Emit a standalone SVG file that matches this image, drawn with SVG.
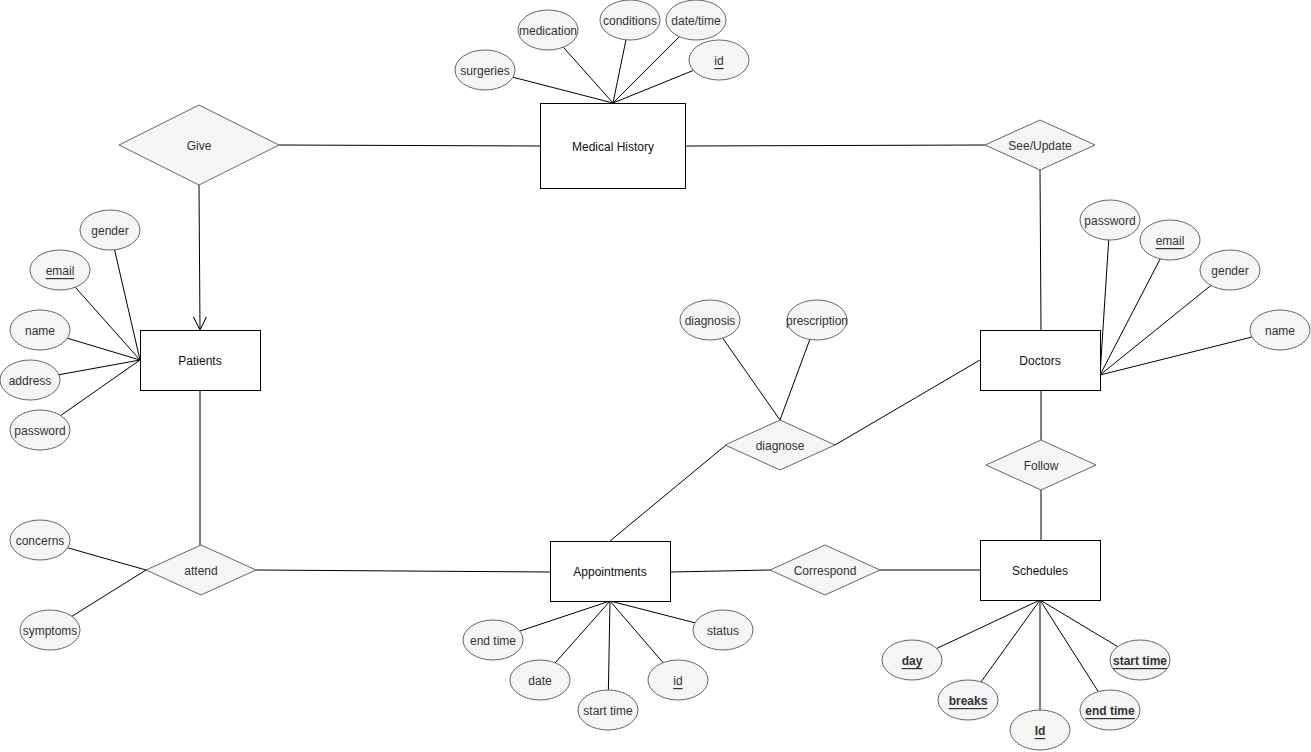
<svg xmlns="http://www.w3.org/2000/svg" width="1311" height="752" viewBox="0 0 1311 752">
<style>
.ent{fill:#ffffff;stroke:#000000;stroke-width:1}
.rel{fill:#f5f5f5;stroke:#666666;stroke-width:1}
.att{fill:#f5f5f5;stroke:#666666;stroke-width:1}
.c{stroke:#000000;stroke-width:1;fill:none}
text{font-family:"Liberation Sans",Arial,sans-serif;font-size:12px;text-anchor:middle;dominant-baseline:central;transform:translate(0px,1px)}
.te{fill:#111111}
.ta{fill:#333333}
.key{text-decoration:underline}
.bk{text-decoration:underline;font-weight:bold}
</style>
<defs>
<marker id="open" markerUnits="userSpaceOnUse" markerWidth="20" markerHeight="20" refX="0" refY="0" orient="auto" overflow="visible">
<path d="M-13,-6.5 L0,0 L-13,6.5" fill="none" stroke="#000000" stroke-width="1"/>
</marker>
</defs>
<rect width="1311" height="752" fill="#ffffff"/>
<g id="connectors">
<line class="c" x1="199" y1="185" x2="200" y2="330" marker-end="url(#open)"/>
<line class="c" x1="279" y1="145" x2="540" y2="146"/>
<line class="c" x1="685" y1="146" x2="985" y2="145"/>
<line class="c" x1="1040" y1="170" x2="1041" y2="330"/>
<line class="c" x1="1041" y1="390" x2="1041" y2="440"/>
<line class="c" x1="1041" y1="490" x2="1041" y2="540"/>
<line class="c" x1="880" y1="570" x2="980" y2="570"/>
<line class="c" x1="670" y1="572" x2="771" y2="570"/>
<line class="c" x1="256" y1="570" x2="550" y2="572"/>
<line class="c" x1="200" y1="390" x2="200" y2="545"/>
<line class="c" x1="835" y1="445" x2="980" y2="360"/>
<line class="c" x1="726" y1="445" x2="610" y2="541"/>
<!-- medical history attributes -->
<line class="c" x1="613" y1="103" x2="485" y2="70"/>
<line class="c" x1="613" y1="103" x2="548" y2="30"/>
<line class="c" x1="613" y1="103" x2="630" y2="20"/>
<line class="c" x1="613" y1="103" x2="696" y2="20"/>
<line class="c" x1="613" y1="103" x2="719" y2="60"/>
<!-- patients attributes -->
<line class="c" x1="140" y1="360" x2="110" y2="230"/>
<line class="c" x1="140" y1="360" x2="60" y2="270"/>
<line class="c" x1="140" y1="360" x2="40" y2="330"/>
<line class="c" x1="140" y1="360" x2="30" y2="380"/>
<line class="c" x1="140" y1="360" x2="40" y2="430"/>
<!-- doctors attributes -->
<line class="c" x1="1100" y1="375" x2="1110" y2="220"/>
<line class="c" x1="1100" y1="375" x2="1170" y2="240"/>
<line class="c" x1="1100" y1="375" x2="1230" y2="270"/>
<line class="c" x1="1100" y1="375" x2="1280" y2="330"/>
<!-- diagnose attributes -->
<line class="c" x1="780" y1="420" x2="710" y2="320"/>
<line class="c" x1="780" y1="420" x2="817" y2="320"/>
<!-- attend attributes -->
<line class="c" x1="146" y1="570" x2="40" y2="540"/>
<line class="c" x1="146" y1="570" x2="50" y2="630"/>
<!-- appointments attributes -->
<line class="c" x1="610" y1="601" x2="493" y2="640"/>
<line class="c" x1="610" y1="601" x2="540" y2="680"/>
<line class="c" x1="610" y1="601" x2="608" y2="710"/>
<line class="c" x1="610" y1="601" x2="678" y2="680"/>
<line class="c" x1="610" y1="601" x2="723" y2="630"/>
<!-- schedules attributes -->
<line class="c" x1="1040" y1="600" x2="912" y2="660"/>
<line class="c" x1="1040" y1="600" x2="968" y2="700"/>
<line class="c" x1="1040" y1="600" x2="1040" y2="730"/>
<line class="c" x1="1040" y1="600" x2="1110" y2="710"/>
<line class="c" x1="1040" y1="600" x2="1140" y2="660"/>
</g>
<g id="medical-history"><rect class="ent" x="540.5" y="103.5" width="145" height="85"/><text class="te" x="613" y="146">Medical History</text></g>
<g id="patients"><rect class="ent" x="140.5" y="330.5" width="120" height="60"/><text class="te" x="200" y="360">Patients</text></g>
<g id="doctors"><rect class="ent" x="980.5" y="330.5" width="120" height="60"/><text class="te" x="1040" y="360">Doctors</text></g>
<g id="appointments"><rect class="ent" x="550.5" y="541.5" width="120" height="60"/><text class="te" x="610" y="571">Appointments</text></g>
<g id="schedules"><rect class="ent" x="980.5" y="540.5" width="120" height="60"/><text class="te" x="1040" y="570">Schedules</text></g>

<g id="give"><polygon class="rel" points="199,105 279,145 199,185 119,145"/><text class="ta" x="199" y="145">Give</text></g>
<g id="see-update"><polygon class="rel" points="1040,120 1095,145 1040,170 985,145"/><text class="ta" x="1040" y="145">See/Update</text></g>
<g id="follow"><polygon class="rel" points="1041,440 1096,465 1041,490 986,465"/><text class="ta" x="1041" y="465">Follow</text></g>
<g id="correspond"><polygon class="rel" points="825,545 880,570 825,595 770,570"/><text class="ta" x="825" y="570">Correspond</text></g>
<g id="attend"><polygon class="rel" points="201,545 256,570 201,595 146,570"/><text class="ta" x="201" y="570">attend</text></g>
<g id="diagnose"><polygon class="rel" points="780,420 835,445 780,470 725,445"/><text class="ta" x="780" y="445">diagnose</text></g>

<g id="attr-surgeries"><ellipse class="att" cx="485" cy="70" rx="30" ry="20"/><text class="ta" x="485" y="70">surgeries</text></g>
<g id="attr-medication"><ellipse class="att" cx="548" cy="30" rx="30" ry="20"/><text class="ta" x="548" y="30">medication</text></g>
<g id="attr-conditions"><ellipse class="att" cx="630" cy="20" rx="30" ry="20"/><text class="ta" x="630" y="20">conditions</text></g>
<g id="attr-datetime"><ellipse class="att" cx="696" cy="20" rx="30" ry="20"/><text class="ta" x="696" y="20">date/time</text></g>
<g id="attr-mh-id"><ellipse class="att" cx="719" cy="60" rx="30" ry="20"/><text class="ta key" x="719" y="60">id</text></g>

<g id="attr-p-gender"><ellipse class="att" cx="110" cy="230" rx="30" ry="20"/><text class="ta" x="110" y="230">gender</text></g>
<g id="attr-p-email"><ellipse class="att" cx="60" cy="270" rx="30" ry="20"/><text class="ta key" x="60" y="270">email</text></g>
<g id="attr-p-name"><ellipse class="att" cx="40" cy="330" rx="30" ry="20"/><text class="ta" x="40" y="330">name</text></g>
<g id="attr-p-address"><ellipse class="att" cx="30" cy="380" rx="30" ry="20"/><text class="ta" x="30" y="380">address</text></g>
<g id="attr-p-password"><ellipse class="att" cx="40" cy="430" rx="30" ry="20"/><text class="ta" x="40" y="430">password</text></g>

<g id="attr-d-password"><ellipse class="att" cx="1110" cy="220" rx="30" ry="20"/><text class="ta" x="1110" y="220">password</text></g>
<g id="attr-d-email"><ellipse class="att" cx="1170" cy="240" rx="30" ry="20"/><text class="ta key" x="1170" y="240">email</text></g>
<g id="attr-d-gender"><ellipse class="att" cx="1230" cy="270" rx="30" ry="20"/><text class="ta" x="1230" y="270">gender</text></g>
<g id="attr-d-name"><ellipse class="att" cx="1280" cy="330" rx="30" ry="20"/><text class="ta" x="1280" y="330">name</text></g>

<g id="attr-diagnosis"><ellipse class="att" cx="710" cy="320" rx="30" ry="20"/><text class="ta" x="710" y="320">diagnosis</text></g>
<g id="attr-prescription"><ellipse class="att" cx="817" cy="320" rx="30" ry="20"/><text class="ta" x="817" y="320">prescription</text></g>

<g id="attr-concerns"><ellipse class="att" cx="40" cy="540" rx="30" ry="20"/><text class="ta" x="40" y="540">concerns</text></g>
<g id="attr-symptoms"><ellipse class="att" cx="50" cy="630" rx="30" ry="20"/><text class="ta" x="50" y="630">symptoms</text></g>

<g id="attr-a-endtime"><ellipse class="att" cx="493" cy="640" rx="30" ry="20"/><text class="ta" x="493" y="640">end time</text></g>
<g id="attr-a-date"><ellipse class="att" cx="540" cy="680" rx="30" ry="20"/><text class="ta" x="540" y="680">date</text></g>
<g id="attr-a-starttime"><ellipse class="att" cx="608" cy="710" rx="30" ry="20"/><text class="ta" x="608" y="710">start time</text></g>
<g id="attr-a-id"><ellipse class="att" cx="678" cy="680" rx="30" ry="20"/><text class="ta key" x="678" y="680">id</text></g>
<g id="attr-a-status"><ellipse class="att" cx="723" cy="630" rx="30" ry="20"/><text class="ta" x="723" y="630">status</text></g>

<g id="attr-s-day"><ellipse class="att" cx="912" cy="660" rx="30" ry="20"/><text class="ta bk" x="912" y="660">day</text></g>
<g id="attr-s-breaks"><ellipse class="att" cx="968" cy="700" rx="30" ry="20"/><text class="ta bk" x="968" y="700">breaks</text></g>
<g id="attr-s-id"><ellipse class="att" cx="1040" cy="730" rx="30" ry="20"/><text class="ta bk" x="1040" y="730">Id</text></g>
<g id="attr-s-endtime"><ellipse class="att" cx="1110" cy="710" rx="30" ry="20"/><text class="ta bk" x="1110" y="710">end time</text></g>
<g id="attr-s-starttime"><ellipse class="att" cx="1140" cy="660" rx="30" ry="20"/><text class="ta bk" x="1140" y="660">start time</text></g>
</svg>
